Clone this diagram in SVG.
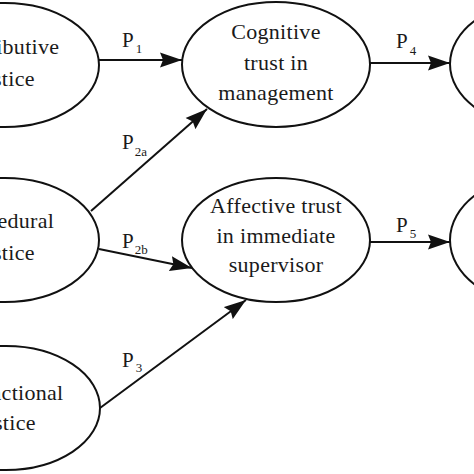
<svg xmlns="http://www.w3.org/2000/svg" width="474" height="474" viewBox="0 0 474 474">
<style>
.node ellipse{fill:#fff;stroke:#111;stroke-width:2}
.t{font-family:'Liberation Serif','DejaVu Serif',serif;font-size:22px;fill:#1a1a1a;text-anchor:middle;letter-spacing:0.3px}
.lab{font-family:'Liberation Serif','DejaVu Serif',serif;font-size:21px;fill:#1a1a1a}
.sub{font-size:13px}
.edge{stroke:#111;stroke-width:2;fill:none;marker-end:url(#ah)}
</style>
<defs>
<marker id="ah" markerUnits="userSpaceOnUse" markerWidth="24" markerHeight="16" refX="22" refY="8" orient="auto">
<path d="M0,0.5 L22,8 L0,15.5 L3,8 z" fill="#111"/>
</marker>
</defs>
<rect width="474" height="474" fill="#fff"/>
<g id="connectors">
<line class="edge" x1="99" y1="60" x2="182" y2="60"/>
<line class="edge" x1="91" y1="211" x2="207" y2="109"/>
<line class="edge" x1="99" y1="249" x2="192" y2="268"/>
<line class="edge" x1="100" y1="408" x2="246" y2="300"/>
<line class="edge" x1="370" y1="63" x2="450" y2="63"/>
<line class="edge" x1="370" y1="242" x2="450" y2="242"/>
</g>
<g id="labels">
<text class="lab" x="122" y="47">P<tspan class="sub" dx="2" dy="6">1</tspan></text>
<text class="lab" x="122" y="149">P<tspan class="sub" dx="1" dy="7">2a</tspan></text>
<text class="lab" x="122" y="248">P<tspan class="sub" dx="1" dy="6">2b</tspan></text>
<text class="lab" x="122" y="367">P<tspan class="sub" dx="2" dy="5">3</tspan></text>
<text class="lab" x="396" y="48">P<tspan class="sub" dx="2" dy="7">4</tspan></text>
<text class="lab" x="396" y="232">P<tspan class="sub" dx="2" dy="6">5</tspan></text>
</g>
<g id="distributive" class="node">
<ellipse cx="5" cy="65" rx="94" ry="62"/>
<text class="t" x="5" y="54">Distributive</text>
<text class="t" x="5" y="86">justice</text>
</g>
<g id="procedural" class="node">
<ellipse cx="5" cy="240" rx="94" ry="62"/>
<text class="t" x="5" y="228">Procedural</text>
<text class="t" x="5" y="260">justice</text>
</g>
<g id="interactional" class="node">
<ellipse cx="6" cy="408" rx="94" ry="62"/>
<text class="t" x="6" y="400">Interactional</text>
<text class="t" x="6" y="430">justice</text>
</g>
<g id="cognitive" class="node">
<ellipse cx="276" cy="64.5" rx="94" ry="62.5"/>
<text class="t" x="276" y="39">Cognitive</text>
<text class="t" x="276" y="70">trust in</text>
<text class="t" x="276" y="100">management</text>
</g>
<g id="affective" class="node">
<ellipse cx="276" cy="240" rx="94" ry="62"/>
<text class="t" x="276" y="213">Affective trust</text>
<text class="t" x="276" y="243">in immediate</text>
<text class="t" x="276" y="272">supervisor</text>
</g>
<g id="outcome-top" class="node">
<ellipse cx="544" cy="64" rx="94" ry="64"/>
</g>
<g id="outcome-bottom" class="node">
<ellipse cx="544" cy="240" rx="94" ry="66"/>
</g>
</svg>
